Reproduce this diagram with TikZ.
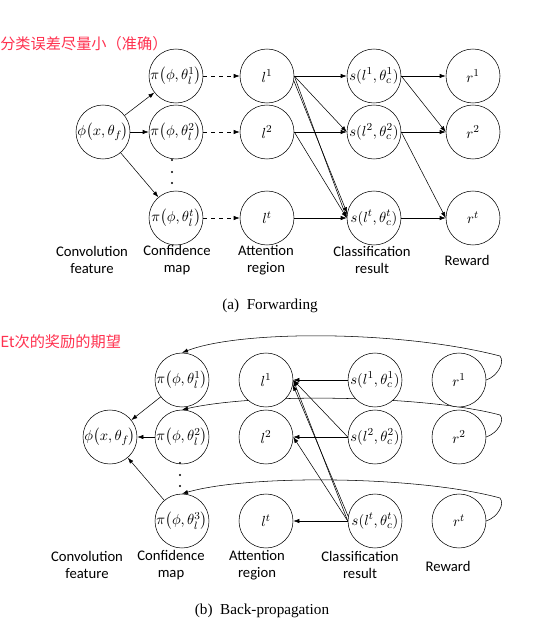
\documentclass[tikz,border=0pt]{standalone}
\usepackage{amsmath}
\usepackage{fontspec}
\setmainfont{Liberation Serif}
\setsansfont{Carlito}
\newfontfamily\cjk{Noto Sans CJK SC}
\usepackage{tikz}
\usetikzlibrary{arrows.meta,backgrounds}
\definecolor{notered}{RGB}{255,50,80}
\newcommand{\polc}[1]{\pi\bigl(\phi,\theta_l^{#1}\bigr)}
\newcommand{\clsf}[2]{s(l^{#1},\theta_c^{#2})}
\newcommand{\feat}{\phi\bigl(x,\theta_f\bigr)}

\tikzset{
  unit/.style={circle, draw, fill=white, minimum size=40.5pt, inner sep=0pt,
    font=\fontsize{11}{13}\selectfont},
  legend/.style={font=\sffamily\fontsize{11}{12.75}\selectfont, align=center},
  fig/.style={font=\fontsize{11.4}{13}\selectfont},
  memo/.style={anchor=west, inner sep=0pt, text=notered,
    font=\cjk\fontsize{11.4}{13}\selectfont},
  tip/.style={-{Latex[length=4.5pt,width=3.2pt]}},
  dot/.style={fill=black}
}

\begin{document}
\begin{tikzpicture}[x=0.75pt,y=-0.75pt]
\useasboundingbox (0,0) rectangle (538,641);

% (a) forwarding
\node[memo] (noteA) at (0,44) {分类误差尽量小（准确）};

\node[unit] (phiA) at (103,132) {$\feat$};
\node[unit] (piA1) at (176,76)  {$\polc{1}$};
\node[unit] (piA2) at (176,132) {$\polc{2}$};
\node[unit] (piAt) at (176,218) {$\polc{t}$};
\node[unit] (lA1) at (267,76)  {$l^1$};
\node[unit] (lA2) at (267,132) {$l^2$};
\node[unit] (lAt) at (267,218) {$l^t$};
\node[unit] (sA1) at (374,76)  {$\clsf{1}{1}$};
\node[unit] (sA2) at (374,132) {$\clsf{2}{2}$};
\node[unit] (sAt) at (374,218) {$\clsf{t}{t}$};
\node[unit] (rA1) at (473,76)  {$r^1$};
\node[unit] (rA2) at (473,132) {$r^2$};
\node[unit] (rAt) at (473,218) {$r^t$};

\foreach \y in {160,172,183}
  \fill[dot] (172,\y) circle (1.1);

\draw[tip] (phiA) -- (piA1);
\draw[tip] (phiA) -- (piA2);
\draw[tip] (phiA) -- (piAt);
\foreach \i in {1,2,t}
  \draw[tip, dashed] (piA\i) -- (lA\i);

\draw[tip] (lA1.east) -- (sA1.west);
\draw[tip] (lA1.east) -- (sA2.west);
\draw[tip] (lA1.east) -- (sAt.west);
\draw[tip] (lA1.-10) -- (sAt.170);
\draw[tip] (lA2.east) -- (sA2.west);
\draw[tip] (lA2.east) -- (sAt.west);
\draw[tip] (lAt.east) -- (sAt.west);

\draw[tip] (sA1.east) -- (rA1.west);
\draw[tip] (sA1.east) -- (rA2.west);
\draw[tip] (sA2.east) -- (rA2.west);
\draw[tip] (sA2.east) -- (rAt.west);
\draw[tip] (sAt.east) -- (rAt.west);

\node[legend] (convA) at (92,260)  {Convolution\\feature};
\node[legend] (confA) at (177,260) {Confidence\\map};
\node[legend] (attA)  at (266,260) {Attention\\region};
\node[legend] (clsA)  at (372,260) {Classification\\result};
\node[legend] (rwdA)  at (467,260) {Reward};
\node[fig] (capA)  at (270,306) {(a)\enspace Forwarding};

% (b) back-propagation
\node[memo] (noteB) at (0,342) {Et次的奖励的期望};

\node[unit] (phiB) at (110,437) {$\feat$};
\node[unit] (piB1) at (182,380) {$\polc{1}$};
\node[unit] (piB2) at (182,437) {$\polc{2}$};
\node[unit] (piB3) at (182,521) {$\polc{3}$};
\node[unit] (lB1) at (266,380) {$l^1$};
\node[unit] (lB2) at (266,437) {$l^2$};
\node[unit] (lBt) at (266,521) {$l^t$};
\node[unit] (sB1) at (375,380) {$\clsf{1}{1}$};
\node[unit] (sB2) at (375,437) {$\clsf{2}{2}$};
\node[unit] (sBt) at (375,521) {$\clsf{t}{t}$};
\node[unit] (rB1) at (459,380) {$r^1$};
\node[unit] (rB2) at (459,437) {$r^2$};
\node[unit] (rBt) at (459,521) {$r^t$};

\foreach \y in {463,475,486}
  \fill[dot] (180,\y) circle (1.1);

\draw[tip] (piB1) -- (phiB);
\draw[tip] (piB2) -- (phiB);
\draw[tip] (piB3) -- (phiB);

\draw[tip] (sB1.west) -- (lB1.east);
\draw[tip] (sB2.west) -- (lB1.east);
\draw[tip] (sBt.west) -- (lB1.east);
\draw[tip] (sBt.170) -- (lB1.-10);
\draw[tip] (sB2.west) -- (lB2.east);
\draw[tip] (sBt.west) -- (lB2.east);
\draw[tip] (sBt.west) -- (lBt.east);

% reward loops back to the confidence maps
\begin{scope}[on background layer]
\draw[tip] (rB1.east) .. controls (498,376) and (505,362) .. (500,356)
           .. controls (400,330) and (240,330) .. (piB1.north);
\draw[tip] (rB2.east) .. controls (498,433) and (505,420) .. (500,415)
           .. controls (430,396) and (260,392) .. (piB2.north);
\draw[tip] (rBt.east) .. controls (498,517) and (505,504) .. (500,498)
           .. controls (420,476) and (250,474) .. (piB3.north);
\end{scope}

\node[legend] (convB) at (87,565)  {Convolution\\feature};
\node[legend] (confB) at (171,565) {Confidence\\map};
\node[legend] (attB)  at (257,565) {Attention\\region};
\node[legend] (clsB)  at (360,565) {Classification\\result};
\node[legend] (rwdB)  at (448,566) {Reward};
\node[fig] (capB)  at (262,611) {(b)\enspace Back-propagation};

\end{tikzpicture}
\end{document}
